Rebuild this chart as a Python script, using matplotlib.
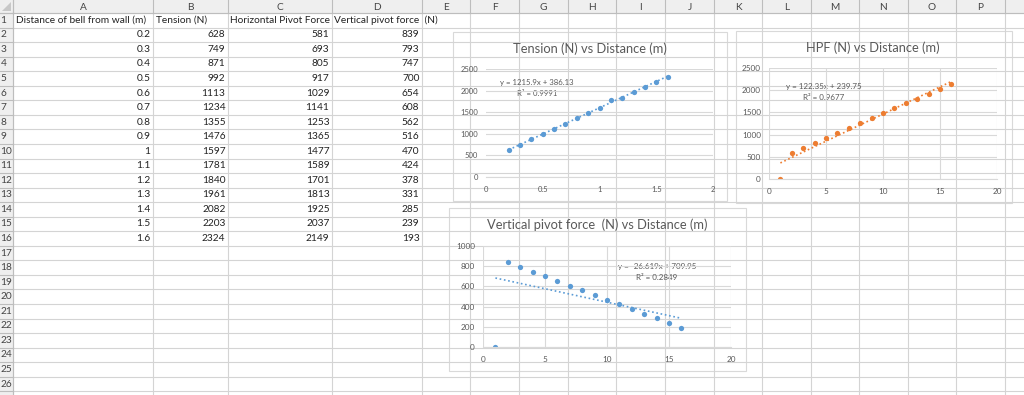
import numpy as np
import matplotlib
matplotlib.use("Agg")
import matplotlib.pyplot as plt
from matplotlib.patches import Rectangle, Polygon

plt.rcParams['font.family'] = ['Lato', 'DejaVu Sans']

# spreadsheet data
distance = [0.2, 0.3, 0.4, 0.5, 0.6, 0.7, 0.8, 0.9, 1, 1.1, 1.2, 1.3, 1.4, 1.5, 1.6]
tension = [628, 749, 871, 992, 1113, 1234, 1355, 1476, 1597, 1781, 1840, 1961, 2082, 2203, 2324]
hpf = [581, 693, 805, 917, 1029, 1141, 1253, 1365, 1477, 1589, 1701, 1813, 1925, 2037, 2149]
vpf = [839, 793, 747, 700, 654, 608, 562, 516, 470, 424, 378, 331, 285, 239, 193]
headers = ["Distance of bell from wall (m)", "Tension (N)", "Horizontal Pivot Force", "Vertical pivot force  (N)"]
distance_txt = ["0.2", "0.3", "0.4", "0.5", "0.6", "0.7", "0.8", "0.9", "1", "1.1", "1.2", "1.3", "1.4", "1.5", "1.6"]

# the HPF / VPF charts plot the whole column incl. the header cell (read as 0) against its index
hpf_chart = [0] + hpf
vpf_chart = [0] + vpf
idx = list(range(1, 17))

col_letters = list("ABCDEFGHIJKLMNOP")
col_edges = [13, 153, 228, 332, 422, 470, 519, 568, 616, 665, 714, 762, 811, 859, 908, 956, 1005, 1053]
row_h = 14.55
top_h = 13

W, H = 1024, 395
fig = plt.figure(figsize=(W / 100, H / 100), dpi=100)
bg = fig.add_axes([0, 0, 1, 1])
bg.set_xlim(0, W)
bg.set_ylim(H, 0)
bg.axis('off')

grid_c = '#D4D4D4'
head_bg = '#EFEFEF'
head_line = '#BDBDBD'
txt_c = '#222222'
cell_fs = 7.3

# headers
bg.add_patch(Rectangle((0, 0), W, top_h, facecolor=head_bg, edgecolor='none'))
bg.add_patch(Rectangle((0, 0), col_edges[0], H, facecolor=head_bg, edgecolor='none'))
bg.add_patch(Polygon([[11, 2], [11, 11], [2, 11]], closed=True, facecolor='#C8C8C8', edgecolor='none'))

n_rows = 26
for k in range(n_rows + 2):
    y = top_h + k * row_h
    bg.plot([col_edges[0], W], [y, y], color=grid_c, lw=0.8)
    bg.plot([0, col_edges[0]], [y, y], color=head_line, lw=0.8)
for i, x in enumerate(col_edges):
    bg.plot([x, x], [top_h, H], color=grid_c, lw=0.8)
    bg.plot([x, x], [0, top_h], color=head_line, lw=0.8)
bg.plot([0, W], [top_h, top_h], color=head_line, lw=0.8)
bg.plot([col_edges[0], col_edges[0]], [0, H], color=head_line, lw=0.8)

for i, c in enumerate(col_letters):
    bg.text((col_edges[i] + col_edges[i + 1]) / 2, top_h / 2 + 0.5, c, ha='center', va='center',
            fontsize=cell_fs, color='#444444')
for r in range(1, n_rows + 1):
    yc = top_h + (r - 0.5) * row_h
    bg.text(0.5, yc, str(r), ha='left', va='center', fontsize=cell_fs, color='#444444')

# cell contents
for j, h in enumerate(headers):
    bg.text(col_edges[j] + 2.5, top_h + 0.5 * row_h, h, ha='left', va='center', fontsize=cell_fs, color=txt_c)
cols = [distance_txt, tension, hpf, vpf]
for j, col in enumerate(cols):
    for i, v in enumerate(col):
        yc = top_h + (i + 1.5) * row_h
        bg.text(col_edges[j + 1] - 2.5, yc, str(v), ha='right', va='center', fontsize=cell_fs, color=txt_c)

# chart frames
frames = [(453, 32, 727, 201), (736, 31, 1012, 203), (449, 208, 746, 371)]
for x0, y0, x1, y1 in frames:
    bg.add_patch(Rectangle((x0, y0), x1 - x0, y1 - y0, facecolor='white', alpha=0.85,
                           edgecolor='none'))
    bg.add_patch(Rectangle((x0, y0), x1 - x0, y1 - y0, facecolor='none', edgecolor='#D9D9D9', lw=0.8))


def px_axes(x0, y0, x1, y1):
    return fig.add_axes([x0 / W, 1 - y1 / H, (x1 - x0) / W, (y1 - y0) / H])


blue = '#5B9BD5'
orange = '#ED7D31'
lab_c = '#595959'
gl = '#D9D9D9'


def style(ax, xgrid, tick_fs):
    ax.set_facecolor('none')
    for s in ax.spines.values():
        s.set_visible(False)
    ax.spines['bottom'].set_visible(True)
    ax.spines['bottom'].set_color(gl)
    ax.spines['bottom'].set_linewidth(0.8)
    ax.grid(True, axis='y', color=gl, lw=0.8)
    if xgrid:
        ax.grid(True, axis='x', color=gl, lw=0.8)
    ax.set_axisbelow(True)
    ax.tick_params(length=0, labelsize=tick_fs, colors=lab_c)
    ax.tick_params(axis='x', pad=6.5)
    ax.tick_params(axis='y', pad=5.8)


dot = (0, (1, 1.6))
title_fs = 9.3

# Tension chart
ax1 = px_axes(486, 69, 713, 177)
m, b = np.polyfit(distance, tension, 1)
xs = np.array([distance[0], distance[-1]])
ax1.plot(xs, m * xs + b, color=blue, lw=1.2, ls=dot)
ax1.plot(distance, tension, 'o', color=blue, ms=3.8, mec='none')
ax1.set_xlim(0, 2)
ax1.set_ylim(0, 2500)
ax1.set_xticks([0, 0.5, 1, 1.5, 2])
ax1.set_xticklabels(["0", "0.5", "1", "1.5", "2"])
ax1.set_yticks(range(0, 2501, 500))
style(ax1, False, 5.5)
bg.text(590, 49, "Tension (N) vs Distance (m)", ha='center', va='center', fontsize=title_fs, color=lab_c)
bg.text(537, 83, "y = 1215.9x + 386.13", ha='center', va='center', fontsize=5.6, color=lab_c)
bg.text(537, 93.5, "R² = 0.9991", ha='center', va='center', fontsize=5.6, color=lab_c)

# HPF chart
ax2 = px_axes(769, 68, 997, 179)
m, b = np.polyfit(idx, hpf_chart, 1)
xs = np.array([idx[0], idx[-1]])
ax2.plot(xs, m * xs + b, color=orange, lw=1.2, ls=dot)
ax2.plot(idx, hpf_chart, 'o', color=orange, ms=3.8, mec='none')
ax2.set_xlim(0, 20)
ax2.set_ylim(0, 2500)
ax2.set_xticks(range(0, 21, 5))
ax2.set_yticks(range(0, 2501, 500))
style(ax2, True, 5.9)
bg.text(873, 48, "HPF (N) vs Distance (m)", ha='center', va='center', fontsize=title_fs, color=lab_c)
bg.text(824, 86, "y = 122.35x + 239.75", ha='center', va='center', fontsize=5.8, color=lab_c)
bg.text(824, 97, "R² = 0.9677", ha='center', va='center', fontsize=5.8, color=lab_c)

# VPF chart
ax3 = px_axes(483, 246, 731, 347)
m, b = np.polyfit(idx, vpf_chart, 1)
ax3.plot(xs, m * xs + b, color=blue, lw=1.2, ls=dot)
ax3.plot(idx, vpf_chart, 'o', color=blue, ms=3.8, mec='none')
ax3.set_xlim(0, 20)
ax3.set_ylim(0, 1000)
ax3.set_xticks(range(0, 21, 5))
ax3.set_yticks(range(0, 1001, 200))
style(ax3, True, 5.9)
bg.text(597, 225, "Vertical pivot force  (N) vs Distance (m)", ha='center', va='center', fontsize=title_fs, color=lab_c)
bg.text(657, 267, "y = -26.619x + 709.95", ha='center', va='center', fontsize=5.8, color=lab_c)
bg.text(657, 278, "R² = 0.2849", ha='center', va='center', fontsize=5.8, color=lab_c)

fig.savefig("out.png", dpi=100)
